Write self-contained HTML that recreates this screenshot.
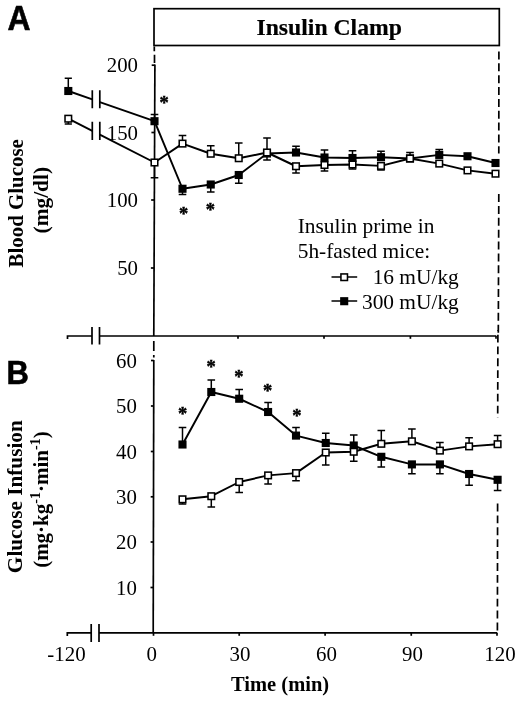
<!DOCTYPE html>
<html><head><meta charset="utf-8"><title>Figure</title>
<style>html,body{margin:0;padding:0;background:#fff}svg{display:block}</style></head>
<body>
<svg width="520" height="702" viewBox="0 0 520 702">
<rect width="520" height="702" fill="#fff"/>
<g stroke="#000" fill="none" stroke-width="1.7">
<rect x="154" y="8.7" width="345.3" height="36.8"/>
<path d="M154.3 46.5V51.3M154.5 54.7V62.9"/>
<path d="M154.9 64.5L153.8 336"/>
<path d="M151.70 65.2H154.90"/>
<path d="M151.42 132.5H154.62"/>
<path d="M151.15 200H154.35"/>
<path d="M150.88 268H154.08"/>
<path d="M67.5 339V336H92M99.5 336H496.3"/>
<path d="M92 327V344.5M99.5 327V344.5"/>
<path d="M153.8 341V351M153.8 355V357.5"/>
<path d="M153.8 360L153.2 633"/>
<path d="M151.00 360.5H153.80"/>
<path d="M150.90 406H153.70"/>
<path d="M150.80 451.5H153.60"/>
<path d="M150.70 496.8H153.50"/>
<path d="M150.60 542H153.40"/>
<path d="M150.50 587.5H153.30"/>
<path d="M67.3 636V632.8H91.2M99 632.8H497.3"/>
<path d="M91.2 624V642M99 624V642"/>
<path d="M153.5 633V635.8"/>
<path d="M239.2 633V635.8"/>
<path d="M325.1 633V635.8"/>
<path d="M411.25 633V635.8"/>
<path d="M497 633V635.8"/>
<path d="M238 336V338.8"/>
<path d="M324 336V338.8"/>
<path d="M410.4 336V338.8"/>
<path d="M496 336V338.8"/>
<path d="M498.89 51.40L498.89 59.40M498.88 63.27L498.88 71.27M498.87 75.14L498.87 83.14M498.86 87.01L498.85 95.01M498.85 98.88L498.84 106.88M498.84 110.75L498.83 118.75M498.83 122.62L498.82 130.62M498.82 134.49L498.81 142.49M498.81 146.36L498.80 153.60"/>
<path d="M498.80 194.10L498.77 202.10M498.76 205.97L498.73 213.97M498.71 217.84L498.69 225.84M498.67 229.71L498.64 237.71M498.63 241.58L498.60 249.58M498.59 253.45L498.56 261.45M498.54 265.32L498.51 273.32M498.50 277.19L498.47 285.19M498.46 289.06L498.43 297.06M498.42 300.93L498.39 308.93M498.37 312.80L498.34 320.80M498.33 324.67L498.30 332.67"/>
<path d="M497.90 330.00L497.90 330.70M497.89 334.72L497.87 342.52M497.86 346.54L497.84 354.34M497.84 358.36L497.82 366.16M497.81 370.18L497.79 377.98M497.78 382.00L497.76 389.80M497.75 393.82L497.74 401.62M497.73 405.64L497.71 413.44M497.70 417.46L497.70 417.80"/>
<path d="M497.60 503.50L497.59 511.40M497.58 515.40L497.57 523.30M497.56 527.30L497.55 535.20M497.54 539.20L497.53 547.10M497.53 551.10L497.51 559.00M497.51 563.00L497.49 570.90M497.49 574.90L497.48 582.80M497.47 586.80L497.46 594.70M497.45 598.70L497.44 606.60M497.43 610.60L497.42 618.50M497.41 622.50L497.40 630.40"/>
</g>
<g stroke="#000" fill="none" stroke-width="1.9">
<path d="M68.3 91L92.3 99.41M99.8 102.04L154.5 121.2"/>
<path d="M68.3 118.7L92.3 130.89M99.8 134.71L154.5 162.5"/>
<path d="M92.3 90.2V108.3M99.8 90.2V108.3M92.3 121.8V140M99.8 121.8V140" stroke-width="1.7"/>
</g>
<path d="M68.30 91.00V78.30M64.70 78.30H71.90" stroke="#000" stroke-width="1.5" fill="none"/>
<path d="M68.30 118.70V124.00M64.70 124.00H71.90" stroke="#000" stroke-width="1.5" fill="none"/>
<path d="M154.50 121.20V114.50M150.70 114.50H158.30" stroke="#000" stroke-width="1.5" fill="none"/>
<path d="M182.50 188.75V194.50M178.70 194.50H186.30" stroke="#000" stroke-width="1.5" fill="none"/>
<path d="M210.75 184.50V192.00M206.95 192.00H214.55" stroke="#000" stroke-width="1.5" fill="none"/>
<path d="M238.75 175.00V183.25M234.95 183.25H242.55" stroke="#000" stroke-width="1.5" fill="none"/>
<path d="M267.00 153.50V160.00M263.20 160.00H270.80" stroke="#000" stroke-width="1.5" fill="none"/>
<path d="M296.00 152.50V146.20M292.20 146.20H299.80" stroke="#000" stroke-width="1.5" fill="none"/>
<path d="M324.50 157.50V150.00M320.70 150.00H328.30" stroke="#000" stroke-width="1.5" fill="none"/>
<path d="M352.50 158.00V150.75M348.70 150.75H356.30" stroke="#000" stroke-width="1.5" fill="none"/>
<path d="M381.00 157.20V151.20M377.20 151.20H384.80" stroke="#000" stroke-width="1.5" fill="none"/>
<path d="M439.25 154.90V149.50M435.45 149.50H443.05" stroke="#000" stroke-width="1.5" fill="none"/>
<path d="M154.50 162.50V177.70M150.70 177.70H158.30" stroke="#000" stroke-width="1.5" fill="none"/>
<path d="M182.50 143.60V135.60M178.70 135.60H186.30" stroke="#000" stroke-width="1.5" fill="none"/>
<path d="M210.75 153.75V145.75M206.95 145.75H214.55" stroke="#000" stroke-width="1.5" fill="none"/>
<path d="M238.75 158.25V143.00M234.95 143.00H242.55" stroke="#000" stroke-width="1.5" fill="none"/>
<path d="M267.00 152.50V138.00M263.20 138.00H270.80" stroke="#000" stroke-width="1.5" fill="none"/>
<path d="M296.00 166.25V173.00M292.20 173.00H299.80" stroke="#000" stroke-width="1.5" fill="none"/>
<path d="M324.50 165.00V171.00M320.70 171.00H328.30" stroke="#000" stroke-width="1.5" fill="none"/>
<path d="M352.50 164.50V169.00M348.70 169.00H356.30" stroke="#000" stroke-width="1.5" fill="none"/>
<path d="M381.00 165.90V170.00M377.20 170.00H384.80" stroke="#000" stroke-width="1.5" fill="none"/>
<path d="M410.00 158.50V152.50M406.20 152.50H413.80" stroke="#000" stroke-width="1.5" fill="none"/>
<polyline points="154.50,121.20 182.50,188.75 210.75,184.50 238.75,175.00 267.00,153.50 296.00,152.50 324.50,157.50 352.50,158.00 381.00,157.20 410.00,158.50 439.25,154.90 467.50,156.25 495.50,163.00" fill="none" stroke="#000" stroke-width="1.95" stroke-linejoin="round"/>
<polyline points="154.50,162.50 182.50,143.60 210.75,153.75 238.75,158.25 267.00,152.50 296.00,166.25 324.50,165.00 352.50,164.50 381.00,165.90 410.00,158.50 439.25,163.60 467.50,170.40 495.50,173.70" fill="none" stroke="#000" stroke-width="1.95" stroke-linejoin="round"/>
<rect x="64.25" y="86.95" width="8.1" height="8.1" fill="#000"/>
<rect x="150.45" y="117.15" width="8.1" height="8.1" fill="#000"/>
<rect x="178.45" y="184.70" width="8.1" height="8.1" fill="#000"/>
<rect x="206.70" y="180.45" width="8.1" height="8.1" fill="#000"/>
<rect x="234.70" y="170.95" width="8.1" height="8.1" fill="#000"/>
<rect x="262.95" y="149.45" width="8.1" height="8.1" fill="#000"/>
<rect x="291.95" y="148.45" width="8.1" height="8.1" fill="#000"/>
<rect x="320.45" y="153.45" width="8.1" height="8.1" fill="#000"/>
<rect x="348.45" y="153.95" width="8.1" height="8.1" fill="#000"/>
<rect x="376.95" y="153.15" width="8.1" height="8.1" fill="#000"/>
<rect x="405.95" y="154.45" width="8.1" height="8.1" fill="#000"/>
<rect x="435.20" y="150.85" width="8.1" height="8.1" fill="#000"/>
<rect x="463.45" y="152.20" width="8.1" height="8.1" fill="#000"/>
<rect x="491.45" y="158.95" width="8.1" height="8.1" fill="#000"/>
<rect x="65.02" y="115.42" width="6.55" height="6.55" fill="#fff" stroke="#000" stroke-width="1.55"/>
<rect x="151.22" y="159.22" width="6.55" height="6.55" fill="#fff" stroke="#000" stroke-width="1.55"/>
<rect x="179.22" y="140.32" width="6.55" height="6.55" fill="#fff" stroke="#000" stroke-width="1.55"/>
<rect x="207.47" y="150.47" width="6.55" height="6.55" fill="#fff" stroke="#000" stroke-width="1.55"/>
<rect x="235.47" y="154.97" width="6.55" height="6.55" fill="#fff" stroke="#000" stroke-width="1.55"/>
<rect x="263.73" y="149.22" width="6.55" height="6.55" fill="#fff" stroke="#000" stroke-width="1.55"/>
<rect x="292.73" y="162.97" width="6.55" height="6.55" fill="#fff" stroke="#000" stroke-width="1.55"/>
<rect x="321.23" y="161.72" width="6.55" height="6.55" fill="#fff" stroke="#000" stroke-width="1.55"/>
<rect x="349.23" y="161.22" width="6.55" height="6.55" fill="#fff" stroke="#000" stroke-width="1.55"/>
<rect x="377.73" y="162.62" width="6.55" height="6.55" fill="#fff" stroke="#000" stroke-width="1.55"/>
<rect x="406.73" y="155.22" width="6.55" height="6.55" fill="#fff" stroke="#000" stroke-width="1.55"/>
<rect x="435.98" y="160.32" width="6.55" height="6.55" fill="#fff" stroke="#000" stroke-width="1.55"/>
<rect x="464.23" y="167.12" width="6.55" height="6.55" fill="#fff" stroke="#000" stroke-width="1.55"/>
<rect x="492.23" y="170.42" width="6.55" height="6.55" fill="#fff" stroke="#000" stroke-width="1.55"/>
<path d="M182.50 444.50V427.50M178.70 427.50H186.30" stroke="#000" stroke-width="1.5" fill="none"/>
<path d="M211.30 392.00V380.00M207.50 380.00H215.10" stroke="#000" stroke-width="1.5" fill="none"/>
<path d="M239.20 398.75V389.50M235.40 389.50H243.00" stroke="#000" stroke-width="1.5" fill="none"/>
<path d="M268.10 412.00V402.50M264.30 402.50H271.90" stroke="#000" stroke-width="1.5" fill="none"/>
<path d="M296.00 435.60V427.50M292.20 427.50H299.80" stroke="#000" stroke-width="1.5" fill="none"/>
<path d="M325.75 443.00V433.25M321.95 433.25H329.55" stroke="#000" stroke-width="1.5" fill="none"/>
<path d="M353.75 445.50V435.00M349.95 435.00H357.55" stroke="#000" stroke-width="1.5" fill="none"/>
<path d="M381.30 456.80V467.00M377.50 467.00H385.10" stroke="#000" stroke-width="1.5" fill="none"/>
<path d="M411.90 464.40V473.70M408.10 473.70H415.70" stroke="#000" stroke-width="1.5" fill="none"/>
<path d="M439.90 464.40V473.70M436.10 473.70H443.70" stroke="#000" stroke-width="1.5" fill="none"/>
<path d="M469.10 474.00V485.30M465.30 485.30H472.90" stroke="#000" stroke-width="1.5" fill="none"/>
<path d="M497.60 479.80V490.50M493.80 490.50H501.40" stroke="#000" stroke-width="1.5" fill="none"/>
<path d="M182.50 499.30V504.00M178.70 504.00H186.30" stroke="#000" stroke-width="1.5" fill="none"/>
<path d="M211.30 496.20V506.90M207.50 506.90H215.10" stroke="#000" stroke-width="1.5" fill="none"/>
<path d="M239.20 482.00V492.50M235.40 492.50H243.00" stroke="#000" stroke-width="1.5" fill="none"/>
<path d="M268.10 475.40V484.00M264.30 484.00H271.90" stroke="#000" stroke-width="1.5" fill="none"/>
<path d="M296.00 473.10V480.75M292.20 480.75H299.80" stroke="#000" stroke-width="1.5" fill="none"/>
<path d="M325.75 452.50V465.00M321.95 465.00H329.55" stroke="#000" stroke-width="1.5" fill="none"/>
<path d="M353.75 451.75V461.25M349.95 461.25H357.55" stroke="#000" stroke-width="1.5" fill="none"/>
<path d="M381.30 443.80V430.50M377.50 430.50H385.10" stroke="#000" stroke-width="1.5" fill="none"/>
<path d="M411.90 441.30V429.00M408.10 429.00H415.70" stroke="#000" stroke-width="1.5" fill="none"/>
<path d="M439.90 450.60V442.60M436.10 442.60H443.70" stroke="#000" stroke-width="1.5" fill="none"/>
<path d="M469.10 446.40V437.70M465.30 437.70H472.90" stroke="#000" stroke-width="1.5" fill="none"/>
<path d="M497.60 444.20V435.40M493.80 435.40H501.40" stroke="#000" stroke-width="1.5" fill="none"/>
<polyline points="182.50,444.50 211.30,392.00 239.20,398.75 268.10,412.00 296.00,435.60 325.75,443.00 353.75,445.50 381.30,456.80 411.90,464.40 439.90,464.40 469.10,474.00 497.60,479.80" fill="none" stroke="#000" stroke-width="1.95" stroke-linejoin="round"/>
<polyline points="182.50,499.30 211.30,496.20 239.20,482.00 268.10,475.40 296.00,473.10 325.75,452.50 353.75,451.75 381.30,443.80 411.90,441.30 439.90,450.60 469.10,446.40 497.60,444.20" fill="none" stroke="#000" stroke-width="1.95" stroke-linejoin="round"/>
<rect x="178.45" y="440.45" width="8.1" height="8.1" fill="#000"/>
<rect x="207.25" y="387.95" width="8.1" height="8.1" fill="#000"/>
<rect x="235.15" y="394.70" width="8.1" height="8.1" fill="#000"/>
<rect x="264.05" y="407.95" width="8.1" height="8.1" fill="#000"/>
<rect x="291.95" y="431.55" width="8.1" height="8.1" fill="#000"/>
<rect x="321.70" y="438.95" width="8.1" height="8.1" fill="#000"/>
<rect x="349.70" y="441.45" width="8.1" height="8.1" fill="#000"/>
<rect x="377.25" y="452.75" width="8.1" height="8.1" fill="#000"/>
<rect x="407.85" y="460.35" width="8.1" height="8.1" fill="#000"/>
<rect x="435.85" y="460.35" width="8.1" height="8.1" fill="#000"/>
<rect x="465.05" y="469.95" width="8.1" height="8.1" fill="#000"/>
<rect x="493.55" y="475.75" width="8.1" height="8.1" fill="#000"/>
<rect x="179.22" y="496.03" width="6.55" height="6.55" fill="#fff" stroke="#000" stroke-width="1.55"/>
<rect x="208.03" y="492.93" width="6.55" height="6.55" fill="#fff" stroke="#000" stroke-width="1.55"/>
<rect x="235.92" y="478.73" width="6.55" height="6.55" fill="#fff" stroke="#000" stroke-width="1.55"/>
<rect x="264.83" y="472.12" width="6.55" height="6.55" fill="#fff" stroke="#000" stroke-width="1.55"/>
<rect x="292.73" y="469.83" width="6.55" height="6.55" fill="#fff" stroke="#000" stroke-width="1.55"/>
<rect x="322.48" y="449.23" width="6.55" height="6.55" fill="#fff" stroke="#000" stroke-width="1.55"/>
<rect x="350.48" y="448.48" width="6.55" height="6.55" fill="#fff" stroke="#000" stroke-width="1.55"/>
<rect x="378.03" y="440.53" width="6.55" height="6.55" fill="#fff" stroke="#000" stroke-width="1.55"/>
<rect x="408.62" y="438.03" width="6.55" height="6.55" fill="#fff" stroke="#000" stroke-width="1.55"/>
<rect x="436.62" y="447.33" width="6.55" height="6.55" fill="#fff" stroke="#000" stroke-width="1.55"/>
<rect x="465.83" y="443.12" width="6.55" height="6.55" fill="#fff" stroke="#000" stroke-width="1.55"/>
<rect x="494.33" y="440.93" width="6.55" height="6.55" fill="#fff" stroke="#000" stroke-width="1.55"/>
<path d="M331.5 277H357.2M331.5 301H357.2" stroke="#000" stroke-width="1.7"/>
<rect x="340.93" y="273.93" width="6.55" height="6.55" fill="#fff" stroke="#000" stroke-width="1.55"/>
<rect x="340.15" y="297.15" width="8.1" height="8.1" fill="#000"/>
<g font-family="'Liberation Serif', serif" fill="#000">
<text x="329.2" y="35.4" font-size="23.7" font-weight="bold" text-anchor="middle" stroke="#000" stroke-width="0.2">Insulin Clamp</text>
<g font-size="20.8" text-anchor="end">
<text x="138" y="72.2">200</text>
<text x="138" y="139.7">150</text>
<text x="138" y="207.2">100</text>
<text x="138" y="275.2">50</text>
<text x="136.8" y="367.5">60</text>
<text x="136.8" y="413">50</text>
<text x="136.8" y="458.5">40</text>
<text x="136.8" y="503.8">30</text>
<text x="136.8" y="549">20</text>
<text x="136.8" y="594.5">10</text>
</g>
<g font-size="20.9" text-anchor="middle">
<text x="66.5" y="660.6">-120</text>
<text x="151.7" y="660.6">0</text>
<text x="240" y="660.6">30</text>
<text x="326.5" y="660.6">60</text>
<text x="412.5" y="660.6">90</text>
<text x="500" y="660.6">120</text>
</g>
<text x="231" y="691" font-size="20.5" font-weight="bold">Time (min)</text>
<g font-size="21.4">
<text x="297.7" y="232.7">Insulin prime in</text>
<text x="297.7" y="257.7">5h-fasted mice:</text>
<text x="458.8" y="284" text-anchor="end">16 mU/kg</text>
<text x="458.8" y="308.5" text-anchor="end">300 mU/kg</text>
</g>
<g font-size="20.9" font-weight="bold" text-anchor="middle">
<text transform="translate(22.7 203.3) rotate(-90)">Blood Glucose</text>
<text transform="translate(47.8 200.2) rotate(-90)" font-size="21.4">(mg/dl)</text>
<text transform="translate(22 496.7) rotate(-90)" font-size="21.25">Glucose Infusion</text>
<text transform="translate(47.8 499.6) rotate(-90)" font-size="21">(mg·kg<tspan font-size="14" dy="-7.5">-1</tspan><tspan dy="7.5">·min</tspan><tspan font-size="14" dy="-7.5">-1</tspan><tspan dy="7.5">)</tspan></text>
</g>
<g font-size="18.5" font-weight="bold" text-anchor="middle" stroke="#000" stroke-width="0.45">
<text x="164" y="109.3">*</text>
<text x="183.5" y="219.8">*</text>
<text x="210.3" y="216.3">*</text>
<text x="182.5" y="420.3">*</text>
<text x="211" y="373.05">*</text>
<text x="238.75" y="383.05">*</text>
<text x="267.5" y="396.8">*</text>
<text x="296.75" y="421.8">*</text>
</g>
</g>
<g font-family="'Liberation Sans', sans-serif" font-weight="bold" font-size="34.5" fill="#000" stroke="#000" stroke-width="0.6">
<text transform="translate(7.4 30.1) scale(0.925 1)">A</text>
<text transform="translate(6.5 384.2) scale(0.93 1)" font-size="33.3">B</text>
</g>
</svg>
</body></html>
